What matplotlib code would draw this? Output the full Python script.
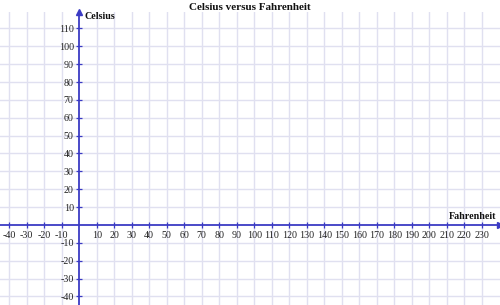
import matplotlib.pyplot as plt

# tick values
fahrenheit_ticks = [-40, -30, -20, -10, 10, 20, 30, 40, 50, 60, 70, 80, 90, 100,
                    110, 120, 130, 140, 150, 160, 170, 180, 190, 200, 210, 220, 230]
celsius_ticks = [-40, -30, -20, -10, 10, 20, 30, 40, 50, 60, 70, 80, 90, 100, 110]
x_range = (-45.3, 240.4)
y_range = (-44.8, 119.2)

title = "Celsius versus Fahrenheit"
x_label = "Fahrenheit"
y_label = "Celsius"

AXIS_COLOR = "#3b3bc4"
GRID_COLOR = "#e0e0f0"
plt.rcParams['font.family'] = ['Liberation Serif', 'DejaVu Serif']

fig = plt.figure(figsize=(5, 3.05), dpi=100)
ax = fig.add_axes([0, 0, 1, 293 / 305])

ax.set_xlim(*x_range)
ax.set_ylim(*y_range)
ax.set_xticks(fahrenheit_ticks)
ax.set_yticks(celsius_ticks)
ax.set_xticklabels([str(v) for v in fahrenheit_ticks])
ax.set_yticklabels([str(v) for v in celsius_ticks])

ax.grid(True, color=GRID_COLOR, linewidth=1.0)
ax.set_axisbelow(True)

ax.spines['left'].set_position(('data', 0))
ax.spines['bottom'].set_position(('data', 0))
ax.spines['top'].set_visible(False)
ax.spines['right'].set_visible(False)
for s in ('left', 'bottom'):
    ax.spines[s].set_color(AXIS_COLOR)
    ax.spines[s].set_linewidth(1.3)

ax.tick_params(direction='inout', length=5, width=0.9, color=AXIS_COLOR,
               labelsize=7.2, pad=1.5, labelcolor='#222222')

# arrow heads at the ends of the axes
ax.plot(1, 0, '>', color=AXIS_COLOR, markersize=4,
        transform=ax.get_yaxis_transform(), clip_on=False)
ax.plot(0, 1, '^', color=AXIS_COLOR, markersize=4,
        transform=ax.get_xaxis_transform(), clip_on=False)

ax.text(0.992, 2.2, x_label, transform=ax.get_yaxis_transform(), ha='right', va='bottom',
        fontsize=7.2, fontweight='bold', color='#111111')
ax.text(3, 0.986, y_label, transform=ax.get_xaxis_transform(), ha='left', va='center',
        fontsize=7.2, fontweight='bold', color='#111111')

fig.text(0.5, 0.976, title, ha='center', va='center', fontsize=8,
         fontweight='bold', color='#111111')

fig.savefig('out.png', dpi=100, facecolor='white')
